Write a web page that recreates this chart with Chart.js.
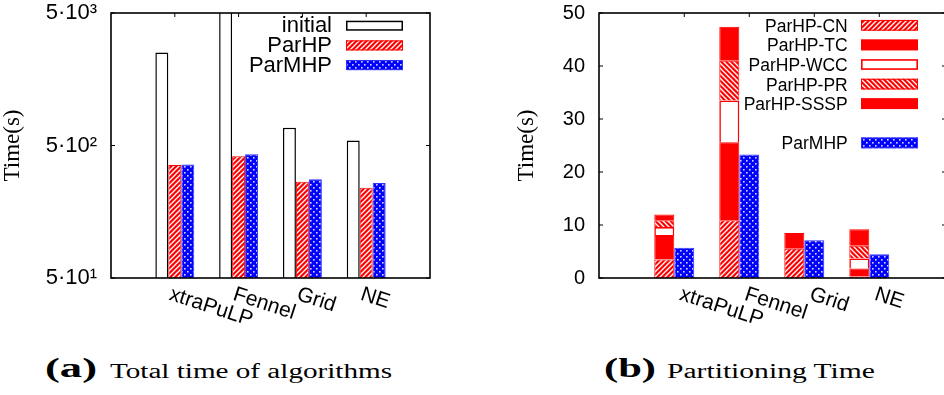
<!DOCTYPE html>
<html>
<head>
<meta charset="utf-8">
<script src="https://cdn.jsdelivr.net/npm/chart.js@4.4.0/dist/chart.umd.min.js"></script>
<style>
  html, body { margin: 0; padding: 0; background: #fff; width: 944px; height: 395px; overflow: hidden; position: relative; }
  #left { position: absolute; left: 0; top: 0; }
  #right { position: absolute; left: 472px; top: 0; }
  .cap { position: absolute; white-space: nowrap; line-height: 1; font-family: 'Liberation Serif', serif; color: #000; transform-origin: 0 0; }
  .lab { font-weight: bold; font-size: 28px; top: 354px; }
  .txt { font-size: 20px; top: 361px; }
</style>
</head>
<body>
<canvas id="left" width="472" height="340"></canvas>
<canvas id="right" width="476" height="340"></canvas>
<div class="cap lab" id="capA" style="left:45px">(a)</div>
<div class="cap txt" id="capAText" style="left:110px">Total time of algorithms</div>
<div class="cap lab" id="capB" style="left:604px">(b)</div>
<div class="cap txt" id="capBText" style="left:667px">Partitioning Time</div>
<script>
const categories = ["xtraPuLP", "Fennel", "Grid", "NE"];

// (a) total time, log axis
const initialTime = [2520, 7000, 680, 545];
const parhpTime = [356, 414, 266, 240];
const parmhpTime = [359, 429, 278, 261];
const logTickValues = [50, 500, 5000];
const logTickLabels = ["5·10¹", "5·10²", "5·10³"];

// (b) partitioning time, ParHP split per algorithm
const hpCN = [3.5, 10.9, 5.5, 0.3];
const hpTC = [4.6, 14.7, 3.0, 1.5];
const hpWCC = [1.5, 7.9, null, 1.9];
const hpPR = [1.3, 7.5, null, 2.4];
const hpSSSP = [1.1, 6.4, null, 3.1];
const mhpPart = [5.7, 23.3, 7.1, 4.5];

Chart.defaults.font.family = "Liberation Sans";
Chart.defaults.color = "#000";

const RED = "#ff0000";
const BLUE = "#0000ff";

// diagonal white hatch on red, dir 1 = "////", -1 = "\\\\"
const hatch = (dir) => {
  const c = document.createElement("canvas");
  c.width = c.height = 5;
  const g = c.getContext("2d");
  g.fillStyle = RED;
  g.fillRect(0, 0, 5, 5);
  g.strokeStyle = "#fff";
  g.lineWidth = 1.3;
  g.beginPath();
  if (dir > 0) {
    g.moveTo(0, 5); g.lineTo(5, 0);
    g.moveTo(-1, 1); g.lineTo(1, -1);
    g.moveTo(4, 6); g.lineTo(6, 4);
  } else {
    g.moveTo(0, 0); g.lineTo(5, 5);
    g.moveTo(4, -1); g.lineTo(6, 1);
    g.moveTo(-1, 4); g.lineTo(1, 6);
  }
  g.stroke();
  return g.createPattern(c, "repeat");
};

const dots = () => {
  const c = document.createElement("canvas");
  c.width = c.height = 6;
  const g = c.getContext("2d");
  g.fillStyle = BLUE;
  g.fillRect(0, 0, 6, 6);
  g.fillStyle = "rgba(255,255,255,0.85)";
  g.fillRect(1, 1, 1.6, 1.6);
  g.fillRect(4, 4, 1.6, 1.6);
  return g.createPattern(c, "repeat");
};

const toPoints = (vals) => vals.map((v, i) => ({ x: i, y: v }));

// box + inward ticks, gnuplot style
const frame = {
  id: "frame",
  afterDatasetsDraw(chart, args, o) {
    const { ctx, chartArea: a, scales } = chart;
    ctx.save();
    ctx.strokeStyle = "#000";
    ctx.lineWidth = 1.6;
    ctx.strokeRect(a.left, a.top, a.right - a.left, a.bottom - a.top);
    ctx.lineWidth = 1;
    ctx.beginPath();
    scales.y.ticks.forEach((t) => {
      const y = scales.y.getPixelForValue(t.value);
      ctx.moveTo(a.left, y); ctx.lineTo(a.left + 4, y);
      ctx.moveTo(a.right, y); ctx.lineTo(a.right - 4, y);
    });
    categories.forEach((c, i) => {
      const x = scales.x.getPixelForValue(i) + o.dx;
      ctx.moveTo(x, a.top); ctx.lineTo(x, a.top + 4);
    });
    ctx.stroke();
    ctx.restore();
  }
};

// legend inside the plot: text, then swatch on the right
const insideLegend = {
  id: "insideLegend",
  afterDatasetsDraw(chart, args, o) {
    const ctx = chart.ctx;
    ctx.save();
    let y = o.top;
    chart.data.datasets.forEach((ds, i) => {
      if (i === o.gapBefore) y += o.gap;
      ctx.font = o.size + "px 'Liberation Sans'";
      ctx.textAlign = "right";
      ctx.textBaseline = "alphabetic";
      ctx.fillStyle = "#000";
      ctx.fillText(ds.label, o.textRight, y + o.baseline);
      ctx.fillStyle = ds.backgroundColor;
      ctx.fillRect(o.boxLeft, y - o.boxH / 2, o.boxW, o.boxH);
      ctx.strokeStyle = ds.borderColor;
      ctx.lineWidth = ds.borderWidth;
      ctx.strokeRect(o.boxLeft + ds.borderWidth / 2, y - o.boxH / 2 + ds.borderWidth / 2, o.boxW - ds.borderWidth, o.boxH - ds.borderWidth);
      y += o.step;
    });
    ctx.restore();
  }
};

// category names, rotated clockwise under the axis
const catLabels = {
  id: "catLabels",
  afterDraw(chart, args, o) {
    const { ctx, chartArea: a, scales } = chart;
    ctx.save();
    ctx.font = o.size + "px 'Liberation Sans'";
    ctx.fillStyle = "#000";
    ctx.textAlign = "left";
    ctx.textBaseline = "alphabetic";
    categories.forEach((c, i) => {
      ctx.save();
      ctx.translate(scales.x.getPixelForValue(i) + o.dx, a.bottom + 7);
      ctx.rotate(18 * Math.PI / 180);
      ctx.fillText(c, 0, o.size * 0.72);
      ctx.restore();
    });
    ctx.restore();
  }
};

const yTitle = (pad) => ({
  display: true,
  text: "Time(s)",
  color: "#000",
  font: { family: "Liberation Serif", size: 23, lineHeight: 1 },
  padding: { top: pad, bottom: 0 }
});

const hiddenX = (min, max, h, stacked) => ({
  type: "linear",
  min: min,
  max: max,
  offset: false,
  stacked: stacked,
  ticks: { display: false },
  grid: { display: false, drawTicks: false, offset: false },
  border: { display: false },
  afterFit: (s) => { s.height = h; s.paddingLeft = 0; s.paddingRight = 0; }
});

// ---------- (a) ----------
new Chart(document.getElementById("left"), {
  type: "bar",
  data: {
    datasets: [
      { label: "initial", data: toPoints(initialTime), backgroundColor: "#fff", borderColor: "#000", borderWidth: 1.5, clip: 0 },
      { label: "ParHP", data: toPoints(parhpTime), backgroundColor: hatch(1), borderColor: RED, borderWidth: 1 },
      { label: "ParMHP", data: toPoints(parmhpTime), backgroundColor: dots(), borderColor: "#3030ff", borderWidth: 1 }
    ]
  },
  options: {
    responsive: false,
    animation: false,
    devicePixelRatio: 1,
    categoryPercentage: 0.61,
    barPercentage: 1,
    layout: { padding: { left: 0, top: 13, right: 42, bottom: 0 } },
    scales: {
      x: hiddenX(-1, 4, 62, false),
      y: {
        type: "logarithmic",
        min: 50,
        max: 5000,
        afterBuildTicks: (s) => { s.ticks = logTickValues.map((v) => ({ value: v })); },
        ticks: {
          font: { size: 22 },
          color: "#000",
          padding: 14,
          callback: (v, i) => logTickLabels[i]
        },
        grid: { display: false, drawTicks: false },
        border: { display: false },
        title: yTitle(1),
        afterFit: (s) => { s.width = 111; s.paddingTop = 0; s.paddingBottom = 0; }
      }
    },
    plugins: {
      legend: { display: false },
      tooltip: { enabled: false },
      frame: { dx: 0 },
      insideLegend: { size: 22, textRight: 332, boxLeft: 346, boxW: 57, boxH: 10, top: 25.7, step: 19.7, baseline: 6.7, gapBefore: -1, gap: 0 },
      catLabels: { size: 21, dx: -2 }
    }
  },
  plugins: [frame, insideLegend, catLabels]
});

// ---------- (b) ----------
new Chart(document.getElementById("right"), {
  type: "bar",
  data: {
    datasets: [
      { label: "ParHP-CN", data: toPoints(hpCN), stack: "hp", backgroundColor: hatch(1), borderColor: RED, borderWidth: 1 },
      { label: "ParHP-TC", data: toPoints(hpTC), stack: "hp", backgroundColor: RED, borderColor: RED, borderWidth: 1 },
      { label: "ParHP-WCC", data: toPoints(hpWCC), stack: "hp", backgroundColor: "#fff", borderColor: RED, borderWidth: 1.6 },
      { label: "ParHP-PR", data: toPoints(hpPR), stack: "hp", backgroundColor: hatch(-1), borderColor: RED, borderWidth: 1 },
      { label: "ParHP-SSSP", data: toPoints(hpSSSP), stack: "hp", backgroundColor: RED, borderColor: RED, borderWidth: 1 },
      { label: "ParMHP", data: toPoints(mhpPart), stack: "mhp", backgroundColor: dots(), borderColor: "#3030ff", borderWidth: 1 }
    ]
  },
  options: {
    responsive: false,
    animation: false,
    devicePixelRatio: 1,
    categoryPercentage: 0.615,
    barPercentage: 1,
    layout: { padding: { left: 0, top: 13, right: 2, bottom: 0 } },
    scales: {
      x: hiddenX(-1.158, 4.18, 62, true),
      y: {
        stacked: true,
        min: 0,
        max: 50,
        ticks: { stepSize: 10, font: { size: 20 }, color: "#000", padding: 14 },
        grid: { display: false, drawTicks: false },
        border: { display: false },
        title: yTitle(43),
        afterFit: (s) => { s.width = 127; s.paddingTop = 0; s.paddingBottom = 0; }
      }
    },
    plugins: {
      legend: { display: false },
      tooltip: { enabled: false },
      frame: { dx: 10 },
      insideLegend: { size: 17.5, textRight: 375.7, boxLeft: 389, boxW: 57, boxH: 10.7, top: 25.3, step: 19.6, baseline: 6.5, gapBefore: 5, gap: 19.6 },
      catLabels: { size: 21, dx: 9 }
    }
  },
  plugins: [frame, insideLegend, catLabels]
});

// captions: stretch to the widths of the original figure
const fitCaption = (id, width) => {
  const el = document.getElementById(id);
  const w = el.getBoundingClientRect().width;
  el.style.transform = "scaleX(" + (width / w) + ")";
};
fitCaption("capA", 52);
fitCaption("capAText", 282);
fitCaption("capB", 52);
fitCaption("capBText", 208);
</script>
</body>
</html>
